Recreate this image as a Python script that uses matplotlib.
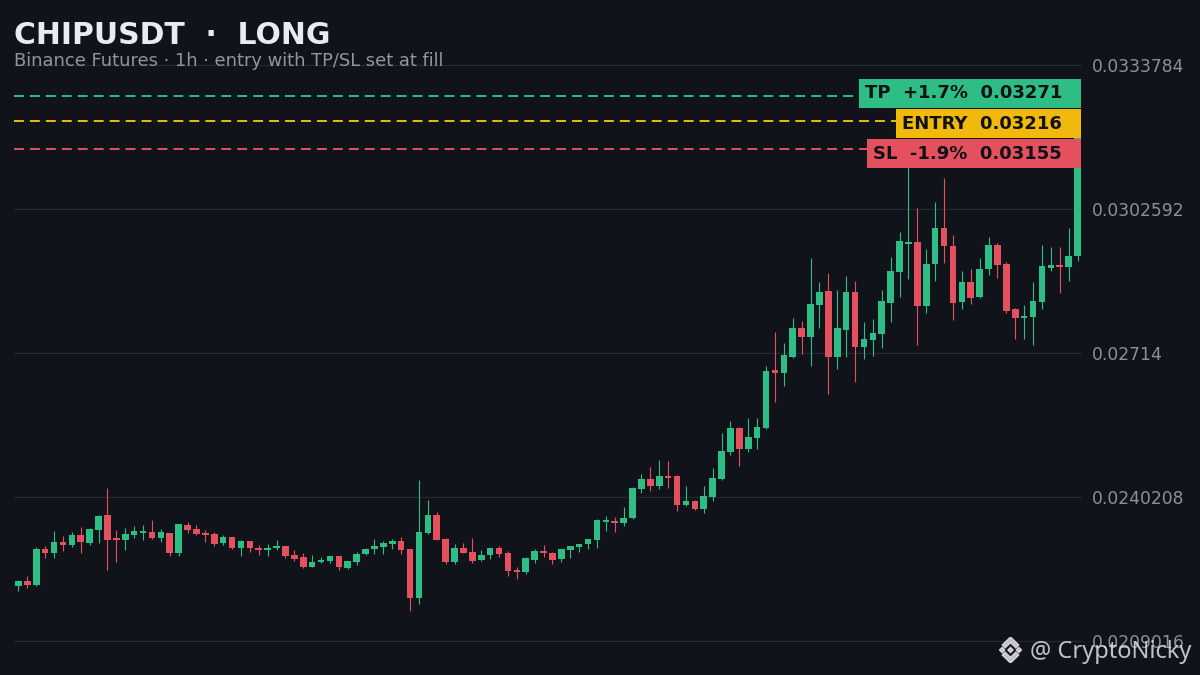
import matplotlib
matplotlib.use("Agg")
import matplotlib.pyplot as plt
from matplotlib.patches import Rectangle, Polygon
from matplotlib.transforms import IdentityTransform

# ---- data (1h candles, CHIPUSDT) ----
opens = [0.022100, 0.022201, 0.022115, 0.022895, 0.022808, 0.023046, 0.022981, 0.023198, 0.023025, 0.023306,
         0.023631, 0.023133, 0.023090, 0.023198, 0.023241, 0.023263, 0.023133, 0.023241, 0.022808, 0.023414,
         0.023328, 0.023241, 0.023220, 0.023025, 0.023155, 0.022916, 0.023068, 0.022916, 0.022873, 0.022916,
         0.022960, 0.022765, 0.022721, 0.022505, 0.022613, 0.022635, 0.022743, 0.022483, 0.022613, 0.022786,
         0.022895, 0.022938, 0.023003, 0.023068, 0.022895, 0.021833, 0.023241, 0.023631, 0.023111, 0.022613,
         0.022916, 0.022830, 0.022656, 0.022765, 0.022916, 0.022808, 0.022440, 0.022396, 0.022656, 0.022851,
         0.022808, 0.022678, 0.022873, 0.022938, 0.023003, 0.023090, 0.023479, 0.023501, 0.023458, 0.023566,
         0.024194, 0.024411, 0.024259, 0.024476, 0.024476, 0.023848, 0.023934, 0.023761, 0.024021, 0.024411,
         0.024996, 0.025515, 0.025061, 0.025299, 0.025515, 0.026772, 0.026707, 0.027053, 0.027681, 0.027487,
         0.028180, 0.028483, 0.027053, 0.027638, 0.028461, 0.027270, 0.027422, 0.027552, 0.028223, 0.028894,
         0.029501, 0.029544, 0.028158, 0.029068, 0.029847, 0.029457, 0.028245, 0.028678, 0.028353, 0.028959,
         0.029479, 0.029068, 0.028093, 0.027898, 0.027920, 0.028245, 0.028981, 0.029046, 0.029003, 0.029241]
highs = [0.022223, 0.022310, 0.022931, 0.022960, 0.023284, 0.023176, 0.023263, 0.023371, 0.023349, 0.023631,
         0.024216, 0.023306, 0.023349, 0.023393, 0.023414, 0.023523, 0.023328, 0.023250, 0.023445, 0.023479,
         0.023414, 0.023306, 0.023263, 0.023198, 0.023160, 0.023090, 0.023072, 0.022981, 0.023003, 0.023090,
         0.022965, 0.022873, 0.022808, 0.022765, 0.022721, 0.022748, 0.022748, 0.022640, 0.022830, 0.022916,
         0.023111, 0.023068, 0.023111, 0.023155, 0.022900, 0.024389, 0.023956, 0.023696, 0.023133, 0.023003,
         0.023025, 0.023133, 0.022873, 0.022921, 0.022960, 0.022851, 0.022505, 0.022721, 0.022895, 0.022981,
         0.022830, 0.022900, 0.022965, 0.023008, 0.023116, 0.023544, 0.023609, 0.023588, 0.023804, 0.024238,
         0.024519, 0.024671, 0.024822, 0.024801, 0.024497, 0.024259, 0.023956, 0.024259, 0.024649, 0.025407,
         0.025667, 0.025537, 0.025732, 0.025732, 0.026858, 0.027595, 0.027357, 0.027898, 0.027833, 0.029198,
         0.028678, 0.028873, 0.028505, 0.028808, 0.028699, 0.027811, 0.027876, 0.028505, 0.029219, 0.029761,
         0.031320, 0.030281, 0.029392, 0.030411, 0.030930, 0.029696, 0.028916, 0.028959, 0.029198, 0.029652,
         0.029522, 0.029111, 0.028115, 0.028180, 0.028678, 0.029479, 0.029436, 0.029436, 0.029847, 0.032230]
lows = [0.021991, 0.022056, 0.022093, 0.022706, 0.022706, 0.022851, 0.022938, 0.022808, 0.022981, 0.023025,
        0.022440, 0.022613, 0.022873, 0.023133, 0.023090, 0.023111, 0.023046, 0.022743, 0.022743, 0.023241,
        0.023198, 0.023046, 0.022960, 0.022981, 0.022895, 0.022743, 0.022830, 0.022765, 0.022743, 0.022873,
        0.022700, 0.022635, 0.022483, 0.022500, 0.022591, 0.022591, 0.022440, 0.022461, 0.022548, 0.022765,
        0.022786, 0.022786, 0.022895, 0.022786, 0.021552, 0.021703, 0.023220, 0.023085, 0.022570, 0.022570,
        0.022803, 0.022591, 0.022635, 0.022678, 0.022721, 0.022310, 0.022245, 0.022353, 0.022591, 0.022721,
        0.022570, 0.022613, 0.022700, 0.022830, 0.022895, 0.022916, 0.023284, 0.023263, 0.023393, 0.023544,
        0.024108, 0.024151, 0.024194, 0.024216, 0.023718, 0.023826, 0.023739, 0.023674, 0.023934, 0.024389,
        0.024931, 0.024692, 0.024996, 0.025061, 0.025494, 0.026079, 0.026425, 0.027032, 0.027118, 0.026858,
        0.027681, 0.026252, 0.026793, 0.027053, 0.026512, 0.027010, 0.027075, 0.027248, 0.027811, 0.028353,
        0.028743, 0.027313, 0.028006, 0.028699, 0.029089, 0.027855, 0.028093, 0.028201, 0.028331, 0.028829,
        0.028764, 0.028006, 0.027443, 0.027443, 0.027313, 0.028093, 0.028916, 0.028440, 0.028699, 0.029133]
closes = [0.022201, 0.022121, 0.022895, 0.022808, 0.023046, 0.022981, 0.023198, 0.023046, 0.023328, 0.023609,
          0.023090, 0.023090, 0.023220, 0.023284, 0.023284, 0.023133, 0.023263, 0.022808, 0.023436, 0.023306,
          0.023220, 0.023198, 0.023003, 0.023155, 0.022916, 0.023068, 0.022916, 0.022873, 0.022916, 0.022960,
          0.022743, 0.022678, 0.022505, 0.022613, 0.022656, 0.022743, 0.022505, 0.022635, 0.022786, 0.022895,
          0.022960, 0.023025, 0.023068, 0.022873, 0.021833, 0.023263, 0.023631, 0.023090, 0.022613, 0.022916,
          0.022808, 0.022635, 0.022765, 0.022916, 0.022786, 0.022418, 0.022396, 0.022700, 0.022851, 0.022808,
          0.022656, 0.022895, 0.022960, 0.023003, 0.023111, 0.023523, 0.023523, 0.023458, 0.023566, 0.024216,
          0.024411, 0.024259, 0.024476, 0.024432, 0.023848, 0.023934, 0.023761, 0.024043, 0.024432, 0.025017,
          0.025515, 0.025061, 0.025321, 0.025537, 0.026750, 0.026707, 0.027097, 0.027681, 0.027487, 0.028201,
          0.028461, 0.027053, 0.027681, 0.028461, 0.027270, 0.027443, 0.027573, 0.028266, 0.028916, 0.029566,
          0.029544, 0.028158, 0.029068, 0.029847, 0.029457, 0.028223, 0.028678, 0.028331, 0.028959, 0.029479,
          0.029046, 0.028050, 0.027898, 0.027941, 0.028266, 0.029024, 0.029046, 0.029003, 0.029241, 0.032160]

entry = 0.03216
tp = 0.03271
sl = 0.03155
yticks = [0.0209016, 0.0240208, 0.02714, 0.0302592, 0.0333784]

# ---- style ----
BG = "#10131a"
GREEN = "#2ebd85"
RED = "#e5505f"
YELLOW = "#f0b90b"
GRID = "#222631"
TICK = "#8a909c"

W, H = 1200, 675
fig = plt.figure(figsize=(12, 6.75), dpi=100, facecolor=BG)
ax = fig.add_axes([14 / W, 15 / H, 1068 / W, 640 / H])
ax.set_facecolor(BG)

n = len(opens)
xs = list(range(n))
cols = [GREEN if c >= o else RED for o, c in zip(opens, closes)]
bottoms = [min(o, c) for o, c in zip(opens, closes)]
heights = [max(abs(c - o), 0.00004) for o, c in zip(opens, closes)]

ax.vlines(xs, lows, highs, colors=cols, linewidth=0.8, zorder=2)
ax.bar(xs, heights, bottom=bottoms, width=0.74, color=cols, linewidth=0, zorder=3)

ax.set_xlim(-0.5, n - 0.5)
ax.set_ylim(0.0204901, 0.0343532)

ax.set_yticks(yticks)
ax.set_yticklabels([str(v) for v in yticks])
ax.yaxis.tick_right()
ax.tick_params(axis="y", length=0, pad=7.2, labelsize=12.3, labelcolor=TICK)
ax.tick_params(axis="x", bottom=False, labelbottom=False)
ax.grid(axis="y", color=GRID, linewidth=1)
ax.set_axisbelow(True)
for s in ax.spines.values():
    s.set_visible(False)

# level lines
for lvl, c in [(tp, GREEN), (entry, YELLOW), (sl, RED)]:
    ax.axhline(lvl, color=c, linewidth=1.4, linestyle=(0, (5.1, 3.1)), zorder=4)

# level tags (drawn in pixels, on top of the axes)
fig.canvas.draw()
tags = [("TP  +1.7%  " + f"{tp:.5f}", tp, GREEN, -2.4),
        ("ENTRY  " + f"{entry:.5f}", entry, YELLOW, 2.4),
        ("SL  -1.9%  " + f"{sl:.5f}", sl, RED, 4.2)]
renderer = fig.canvas.get_renderer()
for label, lvl, c, dy in tags:
    ypix = ax.transData.transform((0, lvl))[1] - dy
    t = fig.text(1062, ypix, label, transform=IdentityTransform(), ha="right", va="center",
                 fontsize=13, fontweight="bold", color="#0f1116", zorder=6)
    bb = t.get_window_extent(renderer)
    fig.add_artist(Rectangle((bb.x0 - 6, ypix - 14.5), 1081 - (bb.x0 - 6), 29,
                             transform=IdentityTransform(), facecolor=c, edgecolor="none", zorder=5))

# titles
fig.text(14 / W, 1 - 44 / H, "CHIPUSDT  \u00b7  LONG", fontsize=21.5, fontweight="bold",
         color="#e8ebf2", va="baseline", ha="left")
fig.text(14 / W, 1 - 66 / H, "Binance Futures \u00b7 1h \u00b7 entry with TP/SL set at fill", fontsize=12.9,
         color="#8e95a3", va="baseline", ha="left")

# watermark
fig.text(1030 / W, 1 - 658 / H, "@ CryptoNicky", fontsize=17, family=["Noto Sans", "DejaVu Sans"],
         color="#e0e2e6", alpha=0.85, va="baseline", ha="left", zorder=7)
lax = fig.add_axes([997 / W, 12 / H, 27 / W, 26 / H])
lax.set_xlim(-1, 1)
lax.set_ylim(-1, 1)
lax.axis("off")
lc = "#e0e2e6"
for cx in (-0.62, 0, 0.62):
    r = 0.2
    lax.add_patch(Polygon([(cx - r, 0), (cx, r), (cx + r, 0), (cx, -r)], closed=True, color=lc, alpha=0.85))
for sgn in (1, -1):
    pts = [(0, 1.0), (0.62, 0.38), (0.4, 0.16), (0, 0.56), (-0.4, 0.16), (-0.62, 0.38)]
    lax.add_patch(Polygon([(x, sgn * y) for x, y in pts], closed=True, color=lc, alpha=0.85))

fig.savefig("out.png", dpi=100, facecolor=BG)
